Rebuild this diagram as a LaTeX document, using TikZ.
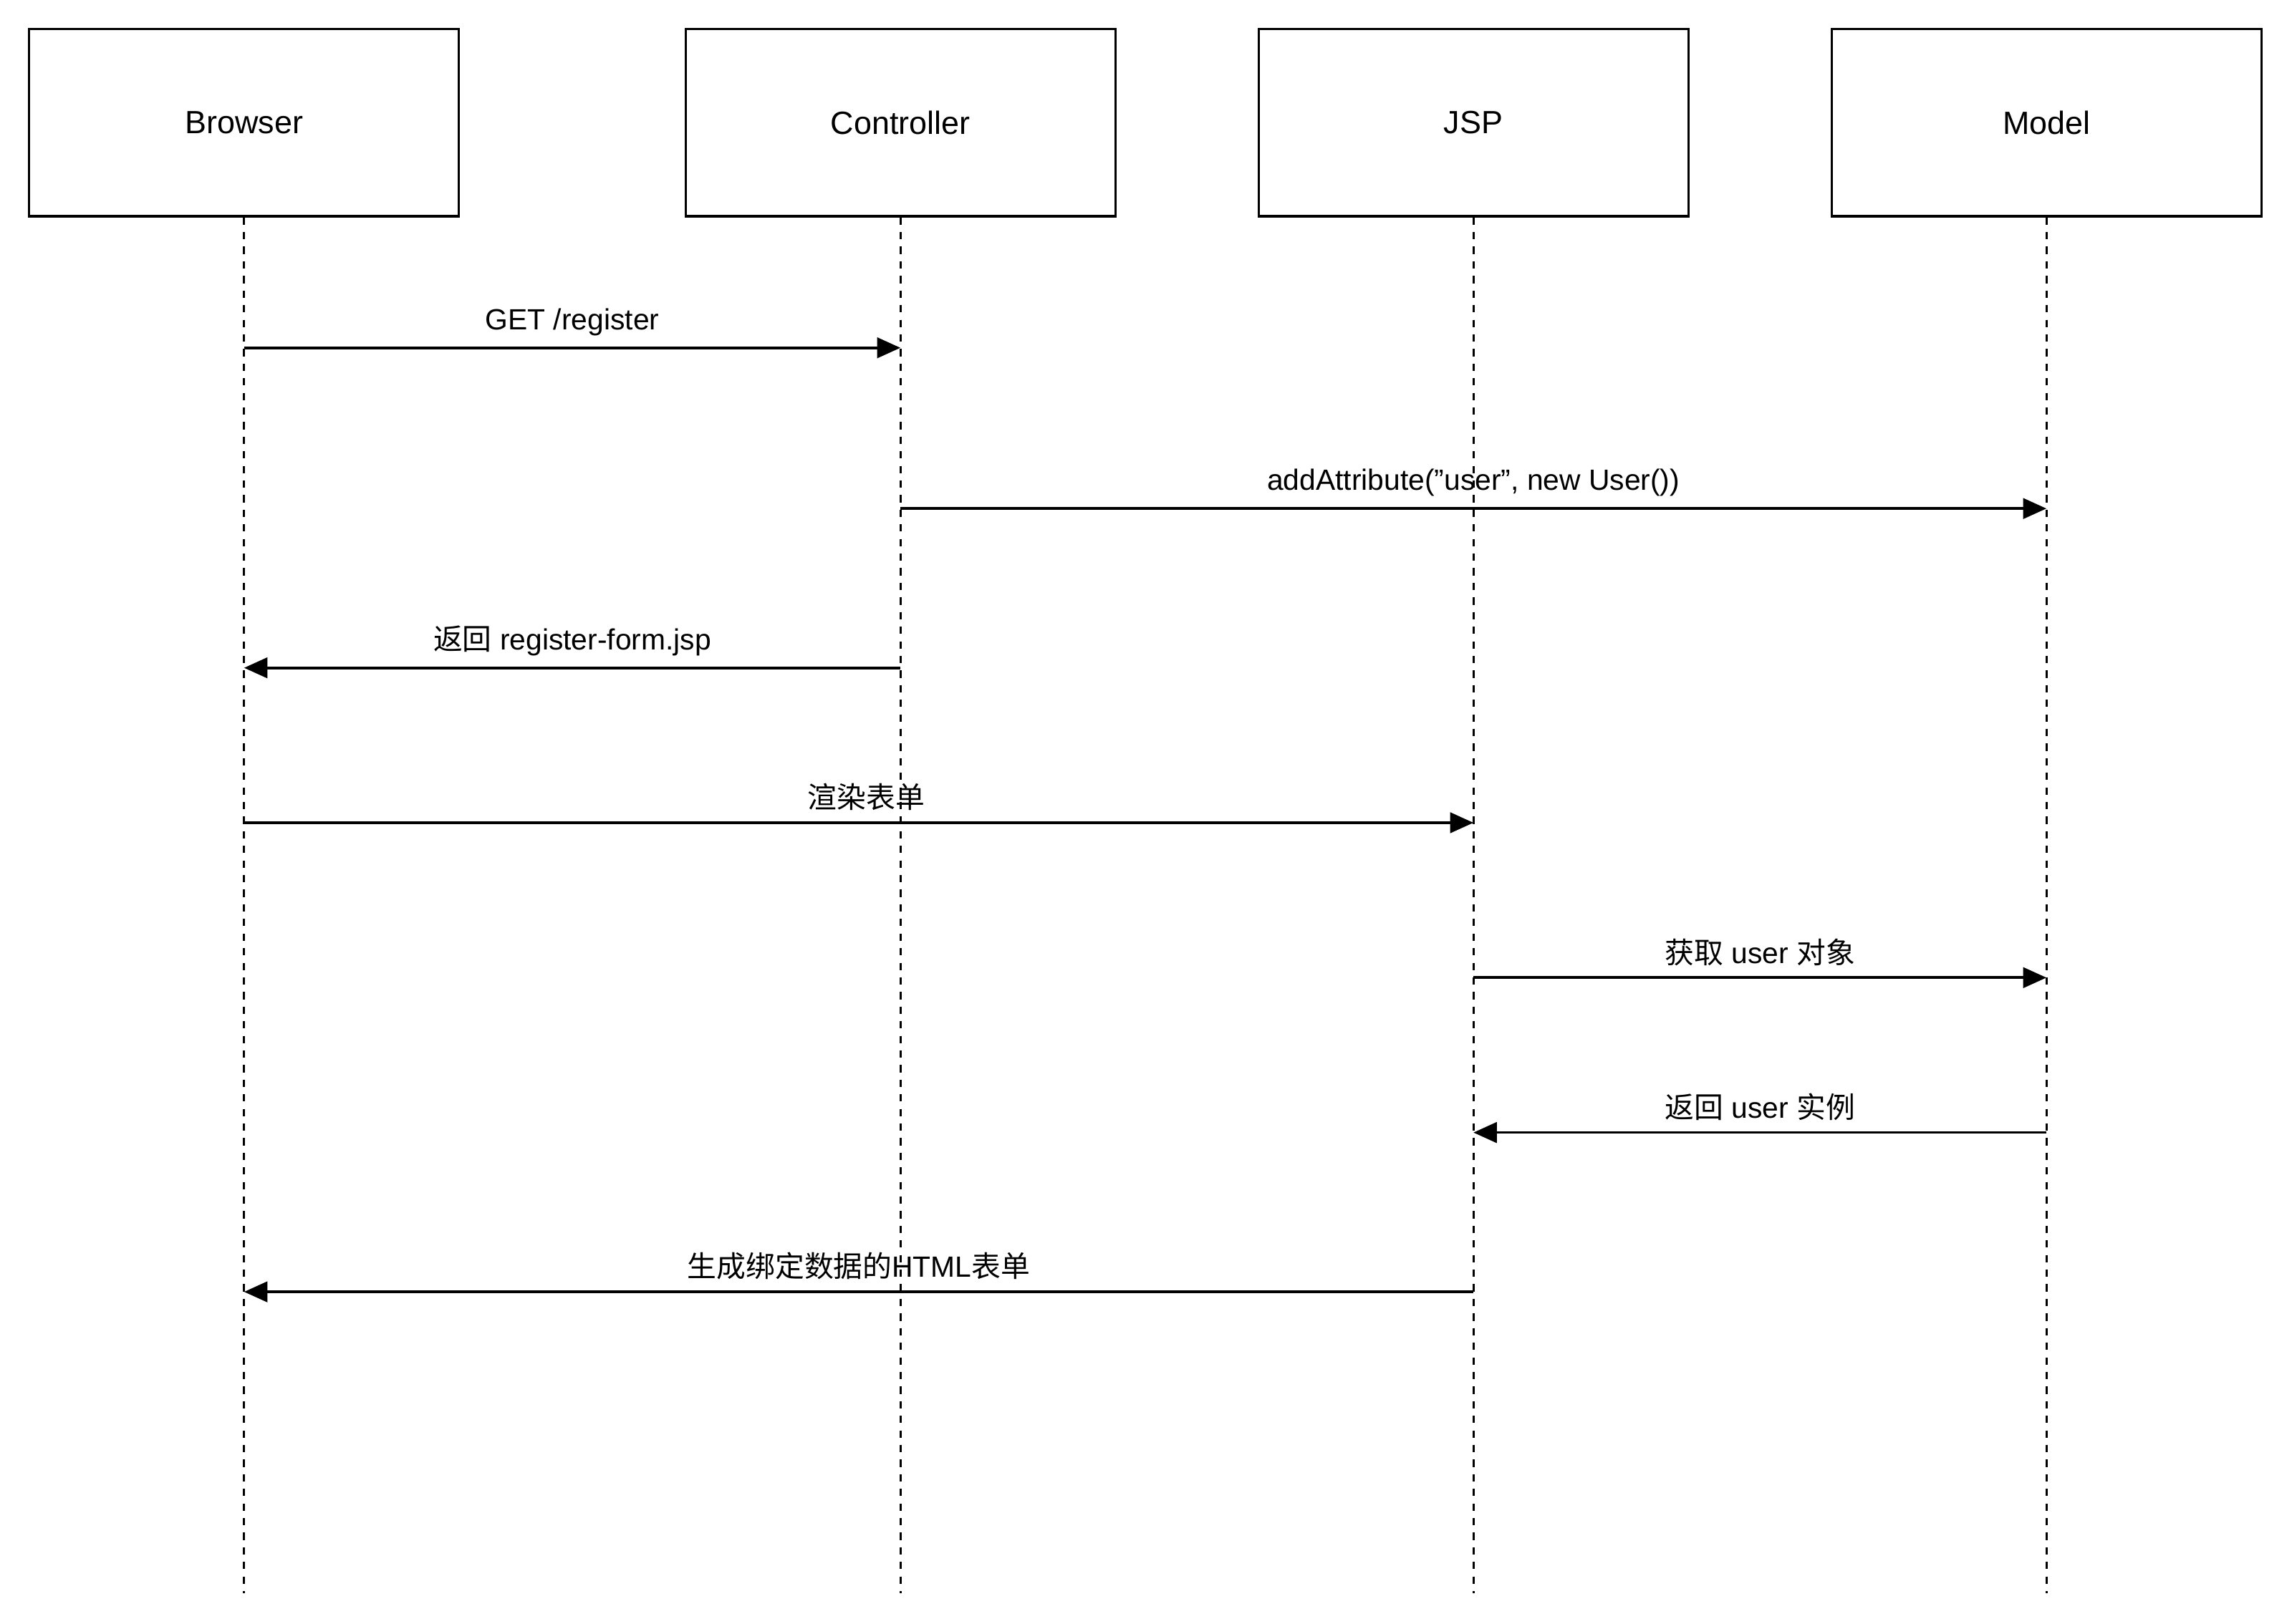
\documentclass[tikz,border=0pt]{standalone}
\usepackage{fontspec}
\setmainfont{Liberation Sans}
\newfontfamily\cjk{Noto Sans CJK SC}
\usetikzlibrary{arrows.meta}
\begin{document}
\begin{tikzpicture}[x=1pt,y=-1pt,
  actor/.style={draw,line width=1.6pt,minimum width=294pt,minimum height=128pt,font=\fontsize{22}{26}\selectfont},
  life/.style={dashed,line width=1.5pt,dash pattern=on 5pt off 5pt},
  msg/.style={line width=1.8pt,-{Triangle[length=16pt,width=14pt]}},
  lbl/.style={font=\fontsize{20}{24}\selectfont,above=4pt}]
\useasboundingbox (0,0) rectangle (1568,1111);
\node[actor] (b) at (167,84) {Browser};
\node[actor] (c) at (616,84) {Controller};
\node[actor] (j) at (1008,84) {JSP};
\node[actor] (m) at (1400,84) {Model};
\foreach \n/\x in {b/167,c/616,j/1008,m/1400}{
  \coordinate (\n e) at (\x,1090);
  \draw[life] (\n.south) -- (\n e);
  \foreach \y in {238,348,457,563,669,775,884}{\coordinate (\n\y) at (\x,\y);}
}
\draw[msg] (b238) -- node[lbl]{GET /register} (c238);
\draw[msg] (c348) -- node[lbl]{addAttribute("user", new User())} (m348);
\draw[msg] (c457) -- node[lbl]{{\cjk 返回} register-form.jsp} (b457);
\draw[msg] (b563) -- node[lbl,xshift=5pt]{\cjk 渲染表单} (j563);
\draw[msg] (j669) -- node[lbl]{{\cjk 获取} user {\cjk 对象}} (m669);
\draw[msg] (m775) -- node[lbl]{{\cjk 返回} user {\cjk 实例}} (j775);
\draw[msg] (j884) -- node[lbl]{{\cjk 生成绑定数据的}HTML{\cjk 表单}} (b884);
\end{tikzpicture}
\end{document}
